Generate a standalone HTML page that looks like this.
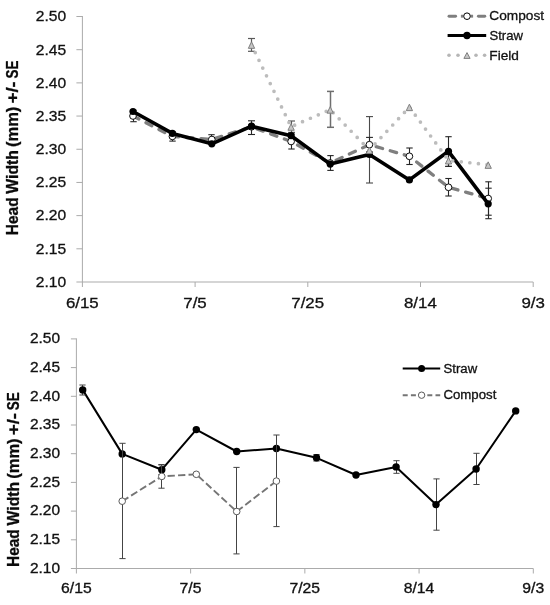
<!DOCTYPE html>
<html><head><meta charset="utf-8"><title>Head Width chart</title>
<style>
html,body{margin:0;padding:0;background:#fff;}
svg{display:block;font-family:'Liberation Sans', sans-serif;}
</style></head><body>
<svg width="550" height="605" viewBox="0 0 550 605" font-family="Liberation Sans, sans-serif">
<rect width="550" height="605" fill="#fff"/>
<line x1="82.40" y1="16.00" x2="82.40" y2="287.00" stroke="#ababab" stroke-width="1"/>
<line x1="76.40" y1="282.00" x2="533.20" y2="282.00" stroke="#ababab" stroke-width="1"/>
<line x1="76.40" y1="16.50" x2="82.40" y2="16.50" stroke="#ababab" stroke-width="1"/>
<line x1="76.40" y1="49.69" x2="82.40" y2="49.69" stroke="#ababab" stroke-width="1"/>
<line x1="76.40" y1="82.88" x2="82.40" y2="82.88" stroke="#ababab" stroke-width="1"/>
<line x1="76.40" y1="116.06" x2="82.40" y2="116.06" stroke="#ababab" stroke-width="1"/>
<line x1="76.40" y1="149.25" x2="82.40" y2="149.25" stroke="#ababab" stroke-width="1"/>
<line x1="76.40" y1="182.44" x2="82.40" y2="182.44" stroke="#ababab" stroke-width="1"/>
<line x1="76.40" y1="215.62" x2="82.40" y2="215.62" stroke="#ababab" stroke-width="1"/>
<line x1="76.40" y1="248.81" x2="82.40" y2="248.81" stroke="#ababab" stroke-width="1"/>
<line x1="195.10" y1="282.00" x2="195.10" y2="287.00" stroke="#ababab" stroke-width="1"/>
<line x1="307.80" y1="282.00" x2="307.80" y2="287.00" stroke="#ababab" stroke-width="1"/>
<line x1="420.50" y1="282.00" x2="420.50" y2="287.00" stroke="#ababab" stroke-width="1"/>
<line x1="533.20" y1="282.00" x2="533.20" y2="287.00" stroke="#ababab" stroke-width="1"/>
<text transform="translate(35.72,21.35) scale(1.0374,1.0000)" font-size="15.07" text-anchor="start" fill="#111" stroke="#111" stroke-width="0.3" paint-order="stroke">2.50</text>
<text transform="translate(35.72,54.54) scale(1.0374,1.0000)" font-size="15.07" text-anchor="start" fill="#111" stroke="#111" stroke-width="0.3" paint-order="stroke">2.45</text>
<text transform="translate(35.72,87.72) scale(1.0374,1.0000)" font-size="15.07" text-anchor="start" fill="#111" stroke="#111" stroke-width="0.3" paint-order="stroke">2.40</text>
<text transform="translate(35.72,120.91) scale(1.0374,1.0000)" font-size="15.07" text-anchor="start" fill="#111" stroke="#111" stroke-width="0.3" paint-order="stroke">2.35</text>
<text transform="translate(35.72,154.10) scale(1.0374,1.0000)" font-size="15.07" text-anchor="start" fill="#111" stroke="#111" stroke-width="0.3" paint-order="stroke">2.30</text>
<text transform="translate(35.72,187.29) scale(1.0374,1.0000)" font-size="15.07" text-anchor="start" fill="#111" stroke="#111" stroke-width="0.3" paint-order="stroke">2.25</text>
<text transform="translate(35.72,220.47) scale(1.0374,1.0000)" font-size="15.07" text-anchor="start" fill="#111" stroke="#111" stroke-width="0.3" paint-order="stroke">2.20</text>
<text transform="translate(35.72,253.66) scale(1.0374,1.0000)" font-size="15.07" text-anchor="start" fill="#111" stroke="#111" stroke-width="0.3" paint-order="stroke">2.15</text>
<text transform="translate(35.72,286.85) scale(1.0374,1.0000)" font-size="15.07" text-anchor="start" fill="#111" stroke="#111" stroke-width="0.3" paint-order="stroke">2.10</text>
<text transform="translate(65.91,308.35) scale(1.1302,1.0000)" font-size="14.93" text-anchor="start" fill="#111" stroke="#111" stroke-width="0.3" paint-order="stroke">6/15</text>
<text transform="translate(183.29,308.35) scale(1.1302,1.0000)" font-size="14.93" text-anchor="start" fill="#111" stroke="#111" stroke-width="0.3" paint-order="stroke">7/5</text>
<text transform="translate(291.31,308.35) scale(1.1302,1.0000)" font-size="14.93" text-anchor="start" fill="#111" stroke="#111" stroke-width="0.3" paint-order="stroke">7/25</text>
<text transform="translate(403.96,308.35) scale(1.1302,1.0000)" font-size="14.93" text-anchor="start" fill="#111" stroke="#111" stroke-width="0.3" paint-order="stroke">8/14</text>
<text transform="translate(521.47,308.35) scale(1.1302,1.0000)" font-size="14.93" text-anchor="start" fill="#111" stroke="#111" stroke-width="0.3" paint-order="stroke">9/3</text>
<text transform="translate(17.60,235.21) rotate(-90) scale(0.9834,1.0000)" font-size="15.72" font-weight="bold" text-anchor="start" fill="#0a0a0a" stroke="#0a0a0a" stroke-width="0.3" paint-order="stroke">Head</text>
<text transform="translate(17.60,193.70) rotate(-90) scale(1.0039,1.0000)" font-size="15.72" font-weight="bold" text-anchor="start" fill="#0a0a0a" stroke="#0a0a0a" stroke-width="0.3" paint-order="stroke">Width</text>
<text transform="translate(17.60,147.03) rotate(-90) scale(1.0522,1.0000)" font-size="15.72" font-weight="bold" text-anchor="start" fill="#0a0a0a" stroke="#0a0a0a" stroke-width="0.3" paint-order="stroke">(mm)</text>
<text transform="translate(17.60,103.24) rotate(-90) scale(1.1692,1.0000)" font-size="15.72" font-weight="bold" text-anchor="start" fill="#0a0a0a" stroke="#0a0a0a" stroke-width="0.3" paint-order="stroke">+/-</text>
<text transform="translate(17.60,78.40) rotate(-90) scale(0.8546,1.0000)" font-size="15.72" font-weight="bold" text-anchor="start" fill="#0a0a0a" stroke="#0a0a0a" stroke-width="0.3" paint-order="stroke">SE</text>
<line x1="251.50" y1="38.50" x2="251.50" y2="51.30" stroke="#595959" stroke-width="1.2"/>
<line x1="248.00" y1="38.50" x2="255.00" y2="38.50" stroke="#595959" stroke-width="1.2"/>
<line x1="248.00" y1="51.30" x2="255.00" y2="51.30" stroke="#595959" stroke-width="1.2"/>
<line x1="291.50" y1="121.00" x2="291.50" y2="132.40" stroke="#595959" stroke-width="1.2"/>
<line x1="288.00" y1="121.00" x2="295.00" y2="121.00" stroke="#595959" stroke-width="1.2"/>
<line x1="288.00" y1="132.40" x2="295.00" y2="132.40" stroke="#595959" stroke-width="1.2"/>
<line x1="330.50" y1="91.40" x2="330.50" y2="127.30" stroke="#6e6e6e" stroke-width="1.5"/>
<line x1="327.00" y1="91.40" x2="334.00" y2="91.40" stroke="#6e6e6e" stroke-width="1.5"/>
<line x1="327.00" y1="127.30" x2="334.00" y2="127.30" stroke="#6e6e6e" stroke-width="1.5"/>
<line x1="369.50" y1="116.60" x2="369.50" y2="183.00" stroke="#4a4a4a" stroke-width="1.1"/>
<line x1="366.00" y1="116.60" x2="373.00" y2="116.60" stroke="#4a4a4a" stroke-width="1.1"/>
<line x1="366.00" y1="183.00" x2="373.00" y2="183.00" stroke="#4a4a4a" stroke-width="1.1"/>
<line x1="448.50" y1="154.60" x2="448.50" y2="166.40" stroke="#595959" stroke-width="1.2"/>
<line x1="445.00" y1="154.60" x2="452.00" y2="154.60" stroke="#595959" stroke-width="1.2"/>
<line x1="445.00" y1="166.40" x2="452.00" y2="166.40" stroke="#595959" stroke-width="1.2"/>
<line x1="133.50" y1="110.30" x2="133.50" y2="121.70" stroke="#262626" stroke-width="1.1"/>
<line x1="130.30" y1="110.30" x2="136.70" y2="110.30" stroke="#262626" stroke-width="1.1"/>
<line x1="130.30" y1="121.70" x2="136.70" y2="121.70" stroke="#262626" stroke-width="1.1"/>
<line x1="172.50" y1="131.70" x2="172.50" y2="141.10" stroke="#262626" stroke-width="1.1"/>
<line x1="169.30" y1="131.70" x2="175.70" y2="131.70" stroke="#262626" stroke-width="1.1"/>
<line x1="169.30" y1="141.10" x2="175.70" y2="141.10" stroke="#262626" stroke-width="1.1"/>
<line x1="211.50" y1="134.70" x2="211.50" y2="144.30" stroke="#262626" stroke-width="1.1"/>
<line x1="208.30" y1="134.70" x2="214.70" y2="134.70" stroke="#262626" stroke-width="1.1"/>
<line x1="208.30" y1="144.30" x2="214.70" y2="144.30" stroke="#262626" stroke-width="1.1"/>
<line x1="251.50" y1="120.80" x2="251.50" y2="134.50" stroke="#262626" stroke-width="1.1"/>
<line x1="248.00" y1="120.80" x2="255.00" y2="120.80" stroke="#262626" stroke-width="1.1"/>
<line x1="248.00" y1="134.50" x2="255.00" y2="134.50" stroke="#262626" stroke-width="1.1"/>
<line x1="291.50" y1="134.00" x2="291.50" y2="149.00" stroke="#262626" stroke-width="1.1"/>
<line x1="288.30" y1="134.00" x2="294.70" y2="134.00" stroke="#262626" stroke-width="1.1"/>
<line x1="288.30" y1="149.00" x2="294.70" y2="149.00" stroke="#262626" stroke-width="1.1"/>
<line x1="330.50" y1="155.60" x2="330.50" y2="170.40" stroke="#262626" stroke-width="1.1"/>
<line x1="327.30" y1="155.60" x2="333.70" y2="155.60" stroke="#262626" stroke-width="1.1"/>
<line x1="327.30" y1="170.40" x2="333.70" y2="170.40" stroke="#262626" stroke-width="1.1"/>
<line x1="369.50" y1="137.40" x2="369.50" y2="152.00" stroke="#262626" stroke-width="1.1"/>
<line x1="366.05" y1="137.40" x2="372.95" y2="137.40" stroke="#262626" stroke-width="1.1"/>
<line x1="366.05" y1="152.00" x2="372.95" y2="152.00" stroke="#262626" stroke-width="1.1"/>
<line x1="409.50" y1="148.00" x2="409.50" y2="164.50" stroke="#262626" stroke-width="1.1"/>
<line x1="406.30" y1="148.00" x2="412.70" y2="148.00" stroke="#262626" stroke-width="1.1"/>
<line x1="406.30" y1="164.50" x2="412.70" y2="164.50" stroke="#262626" stroke-width="1.1"/>
<line x1="448.50" y1="178.50" x2="448.50" y2="196.00" stroke="#262626" stroke-width="1.1"/>
<line x1="445.30" y1="178.50" x2="451.70" y2="178.50" stroke="#262626" stroke-width="1.1"/>
<line x1="445.30" y1="196.00" x2="451.70" y2="196.00" stroke="#262626" stroke-width="1.1"/>
<line x1="488.50" y1="181.80" x2="488.50" y2="215.20" stroke="#262626" stroke-width="1.1"/>
<line x1="485.30" y1="181.80" x2="491.70" y2="181.80" stroke="#262626" stroke-width="1.1"/>
<line x1="485.30" y1="215.20" x2="491.70" y2="215.20" stroke="#262626" stroke-width="1.1"/>
<line x1="448.50" y1="136.70" x2="448.50" y2="166.40" stroke="#262626" stroke-width="1.1"/>
<line x1="445.30" y1="136.70" x2="451.70" y2="136.70" stroke="#262626" stroke-width="1.1"/>
<line x1="445.30" y1="166.40" x2="451.70" y2="166.40" stroke="#262626" stroke-width="1.1"/>
<line x1="488.50" y1="188.20" x2="488.50" y2="218.70" stroke="#262626" stroke-width="1.1"/>
<line x1="485.30" y1="188.20" x2="491.70" y2="188.20" stroke="#262626" stroke-width="1.1"/>
<line x1="485.30" y1="218.70" x2="491.70" y2="218.70" stroke="#262626" stroke-width="1.1"/>
<polyline points="133.00,116.00 172.40,136.40 211.80,139.50 251.50,126.80 291.10,141.50 330.20,163.00 369.40,144.70 409.40,156.30 448.50,187.30 488.20,198.50" fill="none" stroke="#7f7f7f" stroke-width="3.3" stroke-linejoin="round" stroke-linecap="round" stroke-dasharray="6.6 8.0"/>
<circle cx="133.00" cy="116.00" r="3.35" fill="#fff" stroke="#000" stroke-width="0.95"/>
<circle cx="172.40" cy="136.40" r="3.35" fill="#fff" stroke="#000" stroke-width="0.95"/>
<circle cx="211.80" cy="139.50" r="3.35" fill="#fff" stroke="#000" stroke-width="0.95"/>
<circle cx="251.50" cy="126.80" r="3.35" fill="#fff" stroke="#000" stroke-width="0.95"/>
<circle cx="291.10" cy="141.50" r="3.35" fill="#fff" stroke="#000" stroke-width="0.95"/>
<circle cx="330.20" cy="163.00" r="3.35" fill="#fff" stroke="#000" stroke-width="0.95"/>
<circle cx="369.40" cy="144.70" r="3.35" fill="#fff" stroke="#000" stroke-width="0.95"/>
<circle cx="409.40" cy="156.30" r="3.35" fill="#fff" stroke="#000" stroke-width="0.95"/>
<circle cx="448.50" cy="187.30" r="3.35" fill="#fff" stroke="#000" stroke-width="0.95"/>
<circle cx="488.20" cy="198.50" r="3.35" fill="#fff" stroke="#000" stroke-width="0.95"/>
<polyline points="133.00,111.50 172.40,133.40 211.80,143.80 251.50,126.20 291.10,135.70 330.20,164.10 369.40,154.40 409.40,179.90 448.50,151.30 488.20,203.80" fill="none" stroke="#000" stroke-width="3.6" stroke-linejoin="round"/>
<circle cx="133.00" cy="111.50" r="3.6" fill="#000"/>
<circle cx="172.40" cy="133.40" r="3.6" fill="#000"/>
<circle cx="211.80" cy="143.80" r="3.6" fill="#000"/>
<circle cx="251.50" cy="126.20" r="3.6" fill="#000"/>
<circle cx="291.10" cy="135.70" r="3.6" fill="#000"/>
<circle cx="330.20" cy="164.10" r="3.6" fill="#000"/>
<circle cx="369.40" cy="154.40" r="3.6" fill="#000"/>
<circle cx="409.40" cy="179.90" r="3.6" fill="#000"/>
<circle cx="448.50" cy="151.30" r="3.6" fill="#000"/>
<circle cx="488.20" cy="203.80" r="3.6" fill="#000"/>
<polyline points="251.50,44.80 291.10,126.70 330.20,109.60 369.40,150.00 409.40,107.10 448.50,160.40 488.20,164.80" fill="none" stroke="#bcbcbc" stroke-width="3.7" stroke-linejoin="round" stroke-linecap="round" stroke-dasharray="0 8.62"/>
<polygon points="251.50,41.85 254.65,48.35 248.35,48.35" fill="#c6c6c6" stroke="#808080" stroke-width="1" stroke-linejoin="miter"/>
<polygon points="291.10,123.75 294.25,130.25 287.95,130.25" fill="#c6c6c6" stroke="#808080" stroke-width="1" stroke-linejoin="miter"/>
<polygon points="330.20,106.65 333.35,113.15 327.05,113.15" fill="#c6c6c6" stroke="#808080" stroke-width="1" stroke-linejoin="miter"/>
<polygon points="369.40,147.05 372.55,153.55 366.25,153.55" fill="#c6c6c6" stroke="#808080" stroke-width="1" stroke-linejoin="miter"/>
<polygon points="409.40,104.15 412.55,110.65 406.25,110.65" fill="#c6c6c6" stroke="#808080" stroke-width="1" stroke-linejoin="miter"/>
<polygon points="448.50,157.45 451.65,163.95 445.35,163.95" fill="#c6c6c6" stroke="#808080" stroke-width="1" stroke-linejoin="miter"/>
<polygon points="488.20,161.85 491.35,168.35 485.05,168.35" fill="#c6c6c6" stroke="#808080" stroke-width="1" stroke-linejoin="miter"/>
<line x1="449.00" y1="16.20" x2="455.60" y2="16.20" stroke="#7f7f7f" stroke-width="2.9" stroke-linecap="round"/>
<line x1="478.40" y1="16.20" x2="484.80" y2="16.20" stroke="#7f7f7f" stroke-width="2.9" stroke-linecap="round"/>
<line x1="460.90" y1="16.20" x2="463.40" y2="16.20" stroke="#7f7f7f" stroke-width="2.9"/>
<line x1="470.60" y1="16.20" x2="473.10" y2="16.20" stroke="#7f7f7f" stroke-width="2.9"/>
<circle cx="467.00" cy="16.20" r="3.3" fill="#fff" stroke="#000" stroke-width="1.0"/>
<text transform="translate(489.32,20.37) scale(1.0230,1.0000)" font-size="13.38" text-anchor="start" fill="#111" stroke="#111" stroke-width="0.3" paint-order="stroke">Compost</text>
<line x1="447.60" y1="35.50" x2="486.20" y2="35.50" stroke="#000" stroke-width="3.1"/>
<circle cx="467.00" cy="35.50" r="3.7" fill="#000"/>
<text transform="translate(489.41,39.87) scale(0.9806,1.0000)" font-size="13.38" text-anchor="start" fill="#111" stroke="#111" stroke-width="0.3" paint-order="stroke">Straw</text>
<circle cx="449.00" cy="55.20" r="1.8" fill="#b6b6b6"/>
<circle cx="458.00" cy="55.20" r="1.8" fill="#b6b6b6"/>
<circle cx="476.00" cy="55.20" r="1.8" fill="#b6b6b6"/>
<circle cx="484.60" cy="55.20" r="1.8" fill="#b6b6b6"/>
<polygon points="467.00,52.60 470.10,58.40 463.90,58.40" fill="#c6c6c6" stroke="#808080" stroke-width="1" stroke-linejoin="miter"/>
<text transform="translate(489.31,59.60) scale(1.0212,1.0000)" font-size="13.38" text-anchor="start" fill="#111" stroke="#111" stroke-width="0.3" paint-order="stroke">Field</text>
<line x1="76.40" y1="338.40" x2="76.40" y2="573.50" stroke="#ababab" stroke-width="1"/>
<line x1="70.90" y1="568.50" x2="533.30" y2="568.50" stroke="#ababab" stroke-width="1"/>
<line x1="70.90" y1="338.90" x2="76.40" y2="338.90" stroke="#ababab" stroke-width="1"/>
<line x1="70.90" y1="367.60" x2="76.40" y2="367.60" stroke="#ababab" stroke-width="1"/>
<line x1="70.90" y1="396.30" x2="76.40" y2="396.30" stroke="#ababab" stroke-width="1"/>
<line x1="70.90" y1="425.00" x2="76.40" y2="425.00" stroke="#ababab" stroke-width="1"/>
<line x1="70.90" y1="453.70" x2="76.40" y2="453.70" stroke="#ababab" stroke-width="1"/>
<line x1="70.90" y1="482.40" x2="76.40" y2="482.40" stroke="#ababab" stroke-width="1"/>
<line x1="70.90" y1="511.10" x2="76.40" y2="511.10" stroke="#ababab" stroke-width="1"/>
<line x1="70.90" y1="539.80" x2="76.40" y2="539.80" stroke="#ababab" stroke-width="1"/>
<line x1="190.62" y1="568.50" x2="190.62" y2="573.50" stroke="#ababab" stroke-width="1"/>
<line x1="304.85" y1="568.50" x2="304.85" y2="573.50" stroke="#ababab" stroke-width="1"/>
<line x1="419.07" y1="568.50" x2="419.07" y2="573.50" stroke="#ababab" stroke-width="1"/>
<line x1="533.30" y1="568.50" x2="533.30" y2="573.50" stroke="#ababab" stroke-width="1"/>
<text transform="translate(29.93,343.16) scale(1.1209,1.0000)" font-size="13.80" text-anchor="start" fill="#111" stroke="#111" stroke-width="0.3" paint-order="stroke">2.50</text>
<text transform="translate(29.93,371.86) scale(1.1209,1.0000)" font-size="13.80" text-anchor="start" fill="#111" stroke="#111" stroke-width="0.3" paint-order="stroke">2.45</text>
<text transform="translate(29.93,400.56) scale(1.1209,1.0000)" font-size="13.80" text-anchor="start" fill="#111" stroke="#111" stroke-width="0.3" paint-order="stroke">2.40</text>
<text transform="translate(29.93,429.26) scale(1.1209,1.0000)" font-size="13.80" text-anchor="start" fill="#111" stroke="#111" stroke-width="0.3" paint-order="stroke">2.35</text>
<text transform="translate(29.93,457.96) scale(1.1209,1.0000)" font-size="13.80" text-anchor="start" fill="#111" stroke="#111" stroke-width="0.3" paint-order="stroke">2.30</text>
<text transform="translate(29.93,486.66) scale(1.1209,1.0000)" font-size="13.80" text-anchor="start" fill="#111" stroke="#111" stroke-width="0.3" paint-order="stroke">2.25</text>
<text transform="translate(29.93,515.36) scale(1.1209,1.0000)" font-size="13.80" text-anchor="start" fill="#111" stroke="#111" stroke-width="0.3" paint-order="stroke">2.20</text>
<text transform="translate(29.93,544.06) scale(1.1209,1.0000)" font-size="13.80" text-anchor="start" fill="#111" stroke="#111" stroke-width="0.3" paint-order="stroke">2.15</text>
<text transform="translate(29.93,572.76) scale(1.1209,1.0000)" font-size="13.80" text-anchor="start" fill="#111" stroke="#111" stroke-width="0.3" paint-order="stroke">2.10</text>
<text transform="translate(61.01,593.36) scale(1.1289,1.0000)" font-size="13.94" text-anchor="start" fill="#111" stroke="#111" stroke-width="0.3" paint-order="stroke">6/15</text>
<text transform="translate(179.61,593.36) scale(1.1289,1.0000)" font-size="13.94" text-anchor="start" fill="#111" stroke="#111" stroke-width="0.3" paint-order="stroke">7/5</text>
<text transform="translate(289.46,593.36) scale(1.1289,1.0000)" font-size="13.94" text-anchor="start" fill="#111" stroke="#111" stroke-width="0.3" paint-order="stroke">7/25</text>
<text transform="translate(403.65,593.36) scale(1.1289,1.0000)" font-size="13.94" text-anchor="start" fill="#111" stroke="#111" stroke-width="0.3" paint-order="stroke">8/14</text>
<text transform="translate(522.36,593.36) scale(1.1289,1.0000)" font-size="13.94" text-anchor="start" fill="#111" stroke="#111" stroke-width="0.3" paint-order="stroke">9/3</text>
<text transform="translate(19.30,567.01) rotate(-90) scale(0.9880,1.0000)" font-size="15.65" font-weight="bold" text-anchor="start" fill="#0a0a0a" stroke="#0a0a0a" stroke-width="0.3" paint-order="stroke">Head</text>
<text transform="translate(19.30,525.50) rotate(-90) scale(1.0085,1.0000)" font-size="15.65" font-weight="bold" text-anchor="start" fill="#0a0a0a" stroke="#0a0a0a" stroke-width="0.3" paint-order="stroke">Width</text>
<text transform="translate(19.30,478.83) rotate(-90) scale(1.0571,1.0000)" font-size="15.65" font-weight="bold" text-anchor="start" fill="#0a0a0a" stroke="#0a0a0a" stroke-width="0.3" paint-order="stroke">(mm)</text>
<text transform="translate(19.30,435.04) rotate(-90) scale(1.1746,1.0000)" font-size="15.65" font-weight="bold" text-anchor="start" fill="#0a0a0a" stroke="#0a0a0a" stroke-width="0.3" paint-order="stroke">+/-</text>
<text transform="translate(19.30,410.20) rotate(-90) scale(0.8586,1.0000)" font-size="15.65" font-weight="bold" text-anchor="start" fill="#0a0a0a" stroke="#0a0a0a" stroke-width="0.3" paint-order="stroke">SE</text>
<polyline points="82.70,389.90 122.20,453.90 161.80,469.70 196.30,429.60 236.70,451.50 276.40,448.50 316.50,457.80 356.00,475.00 396.10,466.90 436.00,504.60 476.10,469.00 515.70,410.90" fill="none" stroke="#000" stroke-width="2.0" stroke-linejoin="round"/>
<line x1="82.50" y1="385.00" x2="82.50" y2="395.00" stroke="#444" stroke-width="1.0"/>
<line x1="79.40" y1="385.00" x2="85.60" y2="385.00" stroke="#444" stroke-width="1.0"/>
<line x1="79.40" y1="395.00" x2="85.60" y2="395.00" stroke="#444" stroke-width="1.0"/>
<line x1="161.50" y1="465.00" x2="161.50" y2="474.50" stroke="#444" stroke-width="1.0"/>
<line x1="158.40" y1="465.00" x2="164.60" y2="465.00" stroke="#444" stroke-width="1.0"/>
<line x1="158.40" y1="474.50" x2="164.60" y2="474.50" stroke="#444" stroke-width="1.0"/>
<line x1="316.50" y1="454.50" x2="316.50" y2="461.00" stroke="#444" stroke-width="1.0"/>
<line x1="313.40" y1="454.50" x2="319.60" y2="454.50" stroke="#444" stroke-width="1.0"/>
<line x1="313.40" y1="461.00" x2="319.60" y2="461.00" stroke="#444" stroke-width="1.0"/>
<line x1="396.50" y1="460.70" x2="396.50" y2="473.30" stroke="#444" stroke-width="1.0"/>
<line x1="393.40" y1="460.70" x2="399.60" y2="460.70" stroke="#444" stroke-width="1.0"/>
<line x1="393.40" y1="473.30" x2="399.60" y2="473.30" stroke="#444" stroke-width="1.0"/>
<line x1="436.50" y1="478.90" x2="436.50" y2="530.20" stroke="#444" stroke-width="1.0"/>
<line x1="433.40" y1="478.90" x2="439.60" y2="478.90" stroke="#444" stroke-width="1.0"/>
<line x1="433.40" y1="530.20" x2="439.60" y2="530.20" stroke="#444" stroke-width="1.0"/>
<line x1="476.50" y1="453.30" x2="476.50" y2="484.50" stroke="#444" stroke-width="1.0"/>
<line x1="473.40" y1="453.30" x2="479.60" y2="453.30" stroke="#444" stroke-width="1.0"/>
<line x1="473.40" y1="484.50" x2="479.60" y2="484.50" stroke="#444" stroke-width="1.0"/>
<circle cx="82.70" cy="389.90" r="3.7" fill="#000"/>
<circle cx="122.20" cy="453.90" r="3.7" fill="#000"/>
<circle cx="161.80" cy="469.70" r="3.7" fill="#000"/>
<circle cx="196.30" cy="429.60" r="3.7" fill="#000"/>
<circle cx="236.70" cy="451.50" r="3.7" fill="#000"/>
<circle cx="276.40" cy="448.50" r="3.7" fill="#000"/>
<circle cx="316.50" cy="457.80" r="3.7" fill="#000"/>
<circle cx="356.00" cy="475.00" r="3.7" fill="#000"/>
<circle cx="396.10" cy="466.90" r="3.7" fill="#000"/>
<circle cx="436.00" cy="504.60" r="3.7" fill="#000"/>
<circle cx="476.10" cy="469.00" r="3.7" fill="#000"/>
<circle cx="515.70" cy="410.90" r="3.7" fill="#000"/>
<polyline points="122.20,501.20 161.80,476.40 196.30,474.30 236.70,511.50 276.40,481.10" fill="none" stroke="#757575" stroke-width="1.9" stroke-linejoin="round" stroke-dasharray="7.3 3.2"/>
<line x1="122.50" y1="443.30" x2="122.50" y2="558.60" stroke="#444" stroke-width="1.0"/>
<line x1="119.40" y1="443.30" x2="125.60" y2="443.30" stroke="#444" stroke-width="1.0"/>
<line x1="119.40" y1="558.60" x2="125.60" y2="558.60" stroke="#444" stroke-width="1.0"/>
<line x1="161.50" y1="464.50" x2="161.50" y2="488.20" stroke="#444" stroke-width="1.0"/>
<line x1="158.40" y1="464.50" x2="164.60" y2="464.50" stroke="#444" stroke-width="1.0"/>
<line x1="158.40" y1="488.20" x2="164.60" y2="488.20" stroke="#444" stroke-width="1.0"/>
<line x1="236.50" y1="467.40" x2="236.50" y2="553.90" stroke="#444" stroke-width="1.0"/>
<line x1="233.40" y1="467.40" x2="239.60" y2="467.40" stroke="#444" stroke-width="1.0"/>
<line x1="233.40" y1="553.90" x2="239.60" y2="553.90" stroke="#444" stroke-width="1.0"/>
<line x1="276.50" y1="435.00" x2="276.50" y2="526.60" stroke="#444" stroke-width="1.0"/>
<line x1="273.40" y1="435.00" x2="279.60" y2="435.00" stroke="#444" stroke-width="1.0"/>
<line x1="273.40" y1="526.60" x2="279.60" y2="526.60" stroke="#444" stroke-width="1.0"/>
<circle cx="122.20" cy="501.20" r="3.3" fill="#fff" stroke="#5a5a5a" stroke-width="1.0"/>
<circle cx="161.80" cy="476.40" r="3.3" fill="#fff" stroke="#5a5a5a" stroke-width="1.0"/>
<circle cx="196.30" cy="474.30" r="3.3" fill="#fff" stroke="#5a5a5a" stroke-width="1.0"/>
<circle cx="236.70" cy="511.50" r="3.3" fill="#fff" stroke="#5a5a5a" stroke-width="1.0"/>
<circle cx="276.40" cy="481.10" r="3.3" fill="#fff" stroke="#5a5a5a" stroke-width="1.0"/>
<line x1="402.70" y1="368.50" x2="440.20" y2="368.50" stroke="#000" stroke-width="2.0"/>
<circle cx="421.60" cy="368.50" r="3.5" fill="#000"/>
<text transform="translate(443.51,372.78) scale(1.0773,1.0000)" font-size="12.25" text-anchor="start" fill="#111" stroke="#111" stroke-width="0.3" paint-order="stroke">Straw</text>
<line x1="402.7" y1="395.2" x2="440.2" y2="395.2" stroke="#757575" stroke-width="1.9" stroke-dasharray="5 3.2"/>
<circle cx="421.60" cy="395.20" r="3.2" fill="#fff" stroke="#5a5a5a" stroke-width="1.0"/>
<text transform="translate(443.44,398.98) scale(1.0798,1.0000)" font-size="12.25" text-anchor="start" fill="#111" stroke="#111" stroke-width="0.3" paint-order="stroke">Compost</text>
</svg>
</body></html>
